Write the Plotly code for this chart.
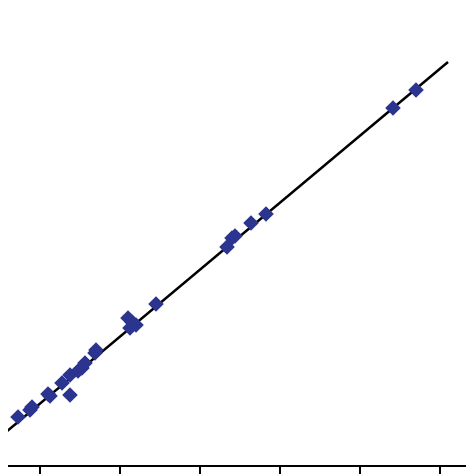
import plotly.graph_objects as go

px_x = [5,18,30,32,48,50,62,70,70,78,82,85,95,96,128,130,132,136,156,227,232,235,251,266,393,416]
px_y = [433,417,410,407,394,396,383,375,395,371,368,363,353,350,318,328,322,325,304,247,238,236,223,214,108,90]
xs = [v/80 for v in px_x]
ys = [(465-v)/80 for v in px_y]
line_x = [0, 448/80]
line_y = [(465-437)/80, (465-62)/80]
tickvals = [0.5,1.5,2.5,3.5,4.5,5.5]

fig = go.Figure()
fig.add_trace(go.Scatter(x=line_x, y=line_y, mode="lines", line=dict(color="black", width=2.5), cliponaxis=False))
fig.add_trace(go.Scatter(x=xs, y=ys, mode="markers", cliponaxis=False,
    marker=dict(symbol="diamond", size=12, color="#2b3590")))
fig.update_layout(width=474, height=474, margin=dict(l=0,r=0,t=0,b=17),
    plot_bgcolor="white", paper_bgcolor="white", showlegend=False)
fig.update_xaxes(range=[0.1,0.1+474/80], showgrid=False, zeroline=False, showline=True,
    linecolor="black", linewidth=2, ticks="outside", ticklen=9, tickwidth=2,
    tickcolor="black", tickvals=tickvals, showticklabels=False)
fig.update_yaxes(range=[0,457/80], showgrid=False, zeroline=False, visible=False)
fig.write_html("out.html")
